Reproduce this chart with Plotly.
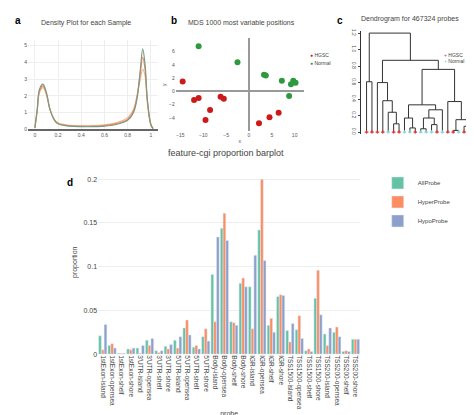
import plotly.graph_objects as go

# ---- panel a: density curves
dens_x = [0, 0.02, 0.04, 0.07, 0.10, 0.13, 0.17, 0.2, 0.3, 0.4, 0.5, 0.6, 0.7, 0.8,
          0.85, 0.88, 0.91, 0.93, 0.95, 0.97, 1.0, 1.02]
dens_green = [0.1, 1.2, 2.4, 2.7, 2.2, 1.2, 0.55, 0.35, 0.2, 0.17, 0.17, 0.2, 0.3, 0.55,
              1.0, 1.8, 3.6, 4.8, 3.9, 1.8, 0.3, 0.05]
dens_orange = [0.1, 1.1, 2.3, 2.6, 2.1, 1.2, 0.55, 0.35, 0.22, 0.2, 0.2, 0.24, 0.35, 0.6,
               1.1, 1.9, 3.4, 4.3, 3.6, 1.7, 0.3, 0.05]
dens_light = [0.1, 1.1, 2.2, 2.5, 2.1, 1.2, 0.6, 0.4, 0.25, 0.22, 0.23, 0.28, 0.4, 0.7,
              1.2, 2.0, 3.0, 3.6, 3.2, 1.6, 0.3, 0.05]

# ---- panel b: MDS
hgsc_x = [-14.5, -12, -11, -9.5, -8.5, -6.2, -5.5, 2.2, 4.5, 6.5]
hgsc_y = [1.5, -1.3, -1.0, -4.3, -2.8, -0.8, -1.1, -4.8, -3.9, -3.2]
normal_x = [-11, -2.5, 3.3, 3.7, 7.2, 8.8, 9.2, 9.7, 10.2]
normal_y = [6.8, 4.4, 2.5, 2.4, 1.6, -0.7, 1.1, 1.6, 1.3]

# ---- panel c: dendrogram merges (left, right, height); leaves are 0..19
merges = [(0, 1, 0.61), (5, 6, 0.10), (4, 21, 0.24), (3, 22, 0.38), (2, 23, 0.60),
          (8, 9, 0.05), (7, 25, 0.17), (10, 11, 0.04), (12, 13, 0.09), (27, 28, 0.17),
          (29, 14, 0.27), (26, 30, 0.33), (18, 19, 0.07), (16, 17, 0.02), (33, 32, 0.15),
          (15, 34, 0.37), (31, 35, 0.76), (24, 36, 0.87), (20, 37, 1.2)]
leaf_group = ["HGSC", "HGSC", "HGSC", "HGSC", "Normal", "HGSC", "HGSC", "Normal", "Normal",
              "HGSC", "Normal", "Normal", "Normal", "HGSC", "Normal", "HGSC", "HGSC",
              "Normal", "HGSC", "HGSC"]

# ---- panel d: barplot
categories = ["1stExon-island", "1stExon-opensea", "1stExon-shelf", "1stExon-shore",
              "3'UTR-island", "3'UTR-opensea", "3'UTR-shelf", "3'UTR-shore",
              "5'UTR-island", "5'UTR-opensea", "5'UTR-shelf", "5'UTR-shore",
              "Body-island", "Body-opensea", "Body-shelf", "Body-shore",
              "IGR-island", "IGR-opensea", "IGR-shelf", "IGR-shore",
              "TSS1500-island", "TSS1500-opensea", "TSS1500-shelf", "TSS1500-shore",
              "TSS200-island", "TSS200-opensea", "TSS200-shelf", "TSS200-shore"]
all_probe = [0.021, 0.010, 0.001, 0.006, 0.007, 0.016, 0.004, 0.009, 0.016, 0.030, 0.008, 0.020,
             0.091, 0.144, 0.037, 0.081, 0.077, 0.142, 0.033, 0.066, 0.027, 0.028, 0.004, 0.064,
             0.023, 0.025, 0.003, 0.017]
hyper_probe = [0.005, 0.012, 0.001, 0.005, 0.001, 0.010, 0.002, 0.006, 0.007, 0.039, 0.010, 0.029,
               0.037, 0.161, 0.036, 0.087, 0.029, 0.200, 0.041, 0.068, 0.014, 0.044, 0.006, 0.096,
               0.010, 0.031, 0.004, 0.017]
hypo_probe = [0.034, 0.007, 0.001, 0.007, 0.010, 0.018, 0.004, 0.011, 0.020, 0.022, 0.006, 0.015,
              0.134, 0.130, 0.033, 0.077, 0.113, 0.107, 0.025, 0.067, 0.035, 0.018, 0.003, 0.045,
              0.030, 0.020, 0.003, 0.017]

FONT = "Liberation Sans"
fig = go.Figure()

# a
for ys, col in [(dens_light, "#f6b48f"), (dens_orange, "#f08a5d"), (dens_green, "#7a9a85")]:
    fig.add_trace(go.Scatter(x=dens_x, y=ys, mode="lines", line=dict(color=col, width=1.2, shape="spline"),
                             showlegend=False, xaxis="x", yaxis="y"))

# b
fig.add_trace(go.Scatter(x=hgsc_x, y=hgsc_y, mode="markers", marker=dict(color="#cc1a1a", size=6),
                         showlegend=False, xaxis="x2", yaxis="y2"))
fig.add_trace(go.Scatter(x=normal_x, y=normal_y, mode="markers", marker=dict(color="#2e9a3e", size=6),
                         showlegend=False, xaxis="x2", yaxis="y2"))

# c
n_leaves = len(leaf_group)
pos = {i: (float(i), 0.0) for i in range(n_leaves)}
lx, ly = [], []
for k, (a, b, h) in enumerate(merges):
    xa, ha = pos[a]
    xb, hb = pos[b]
    lx += [xa, xa, xb, xb, None]
    ly += [ha, h, h, hb, None]
    pos[n_leaves + k] = ((xa + xb) / 2, h)
fig.add_trace(go.Scatter(x=lx, y=ly, mode="lines", line=dict(color="#333", width=1),
                         showlegend=False, xaxis="x3", yaxis="y3"))
leaf_cols = ["#e03030" if g == "HGSC" else "#7fd6e0" for g in leaf_group]
fig.add_trace(go.Scatter(x=list(range(n_leaves)), y=[0] * n_leaves, mode="markers",
                         marker=dict(color=leaf_cols, size=3, symbol="cross"),
                         showlegend=False, xaxis="x3", yaxis="y3"))

# d
for name, vals, col in [("AllProbe", all_probe, "#66c2a5"), ("HyperProbe", hyper_probe, "#fc8d62"),
                        ("HypoProbe", hypo_probe, "#8da0cb")]:
    fig.add_trace(go.Bar(x=categories, y=vals, name=name, marker_color=col, xaxis="x4", yaxis="y4"))

small = dict(size=5, color="#555")
fig.update_layout(
    width=474, height=415, margin=dict(l=0, r=0, t=0, b=0),
    paper_bgcolor="white", plot_bgcolor="white",
    font=dict(family=FONT, color="#444"),
    barmode="group", bargap=0.12, bargroupgap=0,
    xaxis=dict(domain=[0.042, 0.316], range=[-0.06, 1.06], tickvals=[0, 0.2, 0.4, 0.6, 0.8, 1],
               ticktext=["0", "0.2", "0.4", "0.6", "0.8", "1"], tickfont=small,
               showgrid=True, gridcolor="#eee", zeroline=False, anchor="y"),
    yaxis=dict(domain=[0.706, 0.928], range=[-0.1, 5.3], tickvals=[0, 1, 2, 3, 4, 5], tickfont=small,
               showgrid=True, gridcolor="#eee", zeroline=True, zerolinecolor="#666", anchor="x"),
    xaxis2=dict(domain=[0.354, 0.624], range=[-16, 12], tickvals=[-15, -10, -5, 0, 5, 10], tickfont=small,
                showgrid=False, zeroline=True, zerolinecolor="#999", zerolinewidth=1.5, anchor="y2",
                title=dict(text="x", font=small, standoff=2)),
    yaxis2=dict(domain=[0.706, 0.933], range=[-6, 8], tickvals=[-4, -2, 0, 2, 4, 6], tickfont=small,
                showgrid=False, zeroline=True, zerolinecolor="#999", zerolinewidth=1.5, anchor="x2",
                title=dict(text="y", font=small, standoff=2)),
    xaxis3=dict(domain=[0.745, 0.985], range=[-1, 20], visible=False, anchor="y3"),
    yaxis3=dict(domain=[0.70, 0.95], range=[-0.02, 1.22], tickvals=[0, 0.2, 0.4, 0.6, 0.8, 1.0, 1.2],
                ticktext=["0.0", "0.2", "0.4", "0.6", "0.8", "1.0", "1.2"], tickangle=90, tickfont=small,
                showgrid=False, zeroline=False, showline=True, linecolor="#333", ticks="outside",
                ticklen=2, anchor="x3"),
    xaxis4=dict(domain=[0.19, 0.743], tickangle=90, tickmode="linear", dtick=1,
                tickfont=dict(size=6.5, color="#444"),
                showgrid=False, anchor="y4", title=dict(text="probe", font=dict(size=7), standoff=2)),
    yaxis4=dict(domain=[0.161, 0.61], range=[0, 0.21], tickvals=[0, 0.05, 0.1, 0.15, 0.2],
                ticktext=["0", "0.05", "0.1", "0.15", "0.2"], tickfont=dict(size=7, color="#444"),
                showgrid=True, gridcolor="#eee", zeroline=False, anchor="x4",
                title=dict(text="proportion", font=dict(size=7), standoff=4)),
    legend=dict(x=0.78, y=0.615, xanchor="left", yanchor="top", font=dict(size=6, color="#444"),
                bgcolor="rgba(0,0,0,0)", itemwidth=30, tracegroupgap=0),
)

ann = [
    (0.01, 0.995, "<b>a</b>", 10, "#000"), (0.34, 0.995, "<b>b</b>", 10, "#000"),
    (0.69, 0.995, "<b>c</b>", 10, "#000"), (0.12, 0.60, "<b>d</b>", 10, "#000"),
    (0.065, 0.985, "Density Plot for each Sample", 7, "#444"),
    (0.375, 0.985, "MDS 1000 most variable positions", 7, "#444"),
    (0.74, 0.995, "Dendrogram for 467324 probes", 7, "#444"),
    (0.46, 0.67, "feature-cgi proportion barplot", 9, "#444"),
]
anns = [dict(x=x, y=y, xref="paper", yref="paper", text=t, showarrow=False, xanchor="left",
             yanchor="top", font=dict(size=s, color=c)) for x, y, t, s, c in ann]
anns[-1]["xanchor"] = "center"
for txt, yy, col in [("HGSC", 0.905, "#cc1a1a"), ("Normal", 0.885, "#2e9a3e")]:
    anns.append(dict(x=0.632, y=yy, xref="paper", yref="paper", showarrow=False, xanchor="left",
                     text=f"<span style='color:{col}'>●</span> {txt}", font=dict(size=5, color="#444")))
for txt, yy, col in [("HGSC", 0.905, "#e03030"), ("Normal", 0.89, "#7fd6e0")]:
    anns.append(dict(x=0.915, y=yy, xref="paper", yref="paper", showarrow=False, xanchor="left",
                     text=f"<span style='color:{col}'>+</span> {txt}", font=dict(size=5, color="#444")))
fig.update_layout(annotations=anns)

fig.write_html("out.html")
